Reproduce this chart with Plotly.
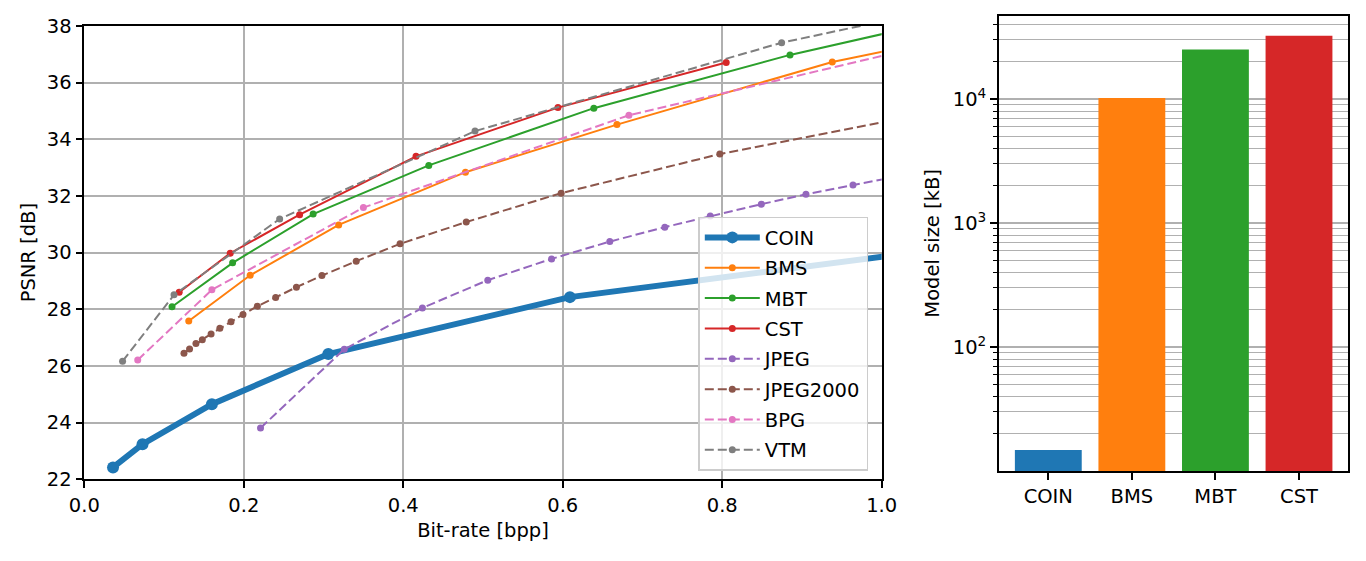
import plotly.graph_objects as go

# ---------------- data ----------------
coin_x = [0.036, 0.073, 0.160, 0.306, 0.609, 1.2]
coin_y = [22.42, 23.24, 24.65, 26.42, 28.43, 30.58]

bms_x = [0.131, 0.208, 0.319, 0.478, 0.668, 0.938, 1.2]
bms_y = [27.59, 29.20, 30.98, 32.84, 34.52, 36.73, 38.24]

mbt_x = [0.110, 0.186, 0.287, 0.432, 0.639, 0.885, 1.2]
mbt_y = [28.09, 29.64, 31.36, 33.08, 35.10, 36.98, 38.98]

cst_x = [0.119, 0.183, 0.270, 0.416, 0.594, 0.805]
cst_y = [28.60, 29.98, 31.34, 33.40, 35.12, 36.71]

jpeg_x = [0.221, 0.326, 0.424, 0.506, 0.586, 0.659, 0.728, 0.785, 0.849, 0.905, 0.964, 1.04]
jpeg_y = [23.81, 26.59, 28.05, 29.03, 29.78, 30.39, 30.90, 31.29, 31.71, 32.06, 32.39, 32.80]

jp2k_x = [0.125, 0.132, 0.140, 0.148, 0.159, 0.170, 0.184, 0.199, 0.217, 0.240,
          0.266, 0.298, 0.341, 0.396, 0.479, 0.598, 0.797, 1.2]
jp2k_y = [26.45, 26.60, 26.79, 26.93, 27.13, 27.33, 27.56, 27.82, 28.11, 28.42,
          28.78, 29.19, 29.70, 30.31, 31.08, 32.10, 33.48, 35.70]

bpg_x = [0.067, 0.160, 0.350, 0.683, 1.2]
bpg_y = [26.21, 28.69, 31.59, 34.85, 38.26]

vtm_x = [0.048, 0.1125, 0.245, 0.490, 0.8745, 1.2]
vtm_y = [26.17, 28.51, 31.19, 34.29, 37.41, 39.36]

models = ["COIN", "BMS", "MBT", "CST"]
model_size_kb = [14.8, 10200, 25100, 32500]

x_ticks = [0.0, 0.2, 0.4, 0.6, 0.8, 1.0]
y_ticks = [22, 24, 26, 28, 30, 32, 34, 36, 38]
log_major = [100, 1000, 10000]
log_major_text = ["10<sup>2</sup>", "10<sup>3</sup>", "10<sup>4</sup>"]
log_minor = [m * d for d in (10, 100, 1000) for m in range(2, 10)] + [20000, 30000, 40000]

# ---------------- styling ----------------
FONT = "DejaVu Sans"
FS = 19.5
C = {"COIN": "#1f77b4", "BMS": "#ff7f0e", "MBT": "#2ca02c", "CST": "#d62728",
     "JPEG": "#9467bd", "JPEG2000": "#8c564b", "BPG": "#e377c2", "VTM": "#7f7f7f"}
GRID = "#b0b0b0"
DASH = "9px,4px"

series = [
    ("COIN", coin_x, coin_y, "solid"),
    ("BMS", bms_x, bms_y, "solid"),
    ("MBT", mbt_x, mbt_y, "solid"),
    ("CST", cst_x, cst_y, "solid"),
    ("JPEG", jpeg_x, jpeg_y, DASH),
    ("JPEG2000", jp2k_x, jp2k_y, DASH),
    ("BPG", bpg_x, bpg_y, DASH),
    ("VTM", vtm_x, vtm_y, DASH),
]

fig = go.Figure()
for name, xs, ys, dash in series:
    big = name == "COIN"
    fig.add_trace(go.Scatter(
        x=xs, y=ys, name=name, mode="lines+markers",
        line=dict(color=C[name], width=6 if big else 2, dash=dash),
        marker=dict(color=C[name], size=12 if big else 7, line=dict(width=0)),
        legendgroup=name, xaxis="x", yaxis="y",
    ))

fig.add_trace(go.Bar(
    x=models, y=model_size_kb, marker=dict(color=[C[m] for m in models], line=dict(width=0)),
    showlegend=False, xaxis="x2", yaxis="y2",
))

axis_common = dict(
    showline=True, linecolor="black", linewidth=1.6, mirror=True,
    ticks="outside", ticklen=7, tickwidth=1.6, tickcolor="black",
    tickfont=dict(family=FONT, size=FS, color="black"),
    zeroline=False, automargin=False,
)

W, H = 1366, 561
fig.update_layout(
    width=W, height=H,
    margin=dict(l=0, r=0, t=0, b=0, pad=0),
    paper_bgcolor="white", plot_bgcolor="white",
    font=dict(family=FONT, size=FS, color="black"),
    bargap=0.2,
    xaxis=dict(
        domain=[84.3 / W, 881.7 / W], range=[0, 1.0],
        tickvals=x_ticks, tickformat=".1f",
        showgrid=True, gridcolor=GRID, gridwidth=1.6,
        title=dict(text="Bit-rate [bpp]", font=dict(family=FONT, size=FS), standoff=8),
        anchor="y", **axis_common,
    ),
    yaxis=dict(
        domain=[(H - 479.3) / H, (H - 26) / H], range=[22, 38],
        tickvals=y_ticks,
        showgrid=True, gridcolor=GRID, gridwidth=1.6,
        title=dict(text="PSNR [dB]", font=dict(family=FONT, size=FS), standoff=6),
        anchor="x", **axis_common,
    ),
    xaxis2=dict(
        domain=[999 / W, 1348.3 / W], range=[-0.59, 3.59], type="category",
        showgrid=False, anchor="y2", **axis_common,
    ),
    yaxis2=dict(
        domain=[(H - 471) / H, (H - 15.7) / H], type="log", range=[1.0, 4.673],
        tickvals=log_major, ticktext=log_major_text,
        showgrid=True, gridcolor=GRID, gridwidth=1.6,
        minor=dict(tickmode="array", tickvals=log_minor, showgrid=True,
                   gridcolor=GRID, gridwidth=1.2, ticks="outside", ticklen=4,
                   tickwidth=1.2, tickcolor="black"),
        title=dict(text="Model size [kB]", font=dict(family=FONT, size=FS), standoff=8),
        anchor="x2", **axis_common,
    ),
    legend=dict(
        x=698.3 / W, y=(H - 216.7) / H, xanchor="left", yanchor="top",
        bgcolor="rgba(255,255,255,0.8)", bordercolor="#cccccc", borderwidth=1.5,
        font=dict(family=FONT, size=FS, color="black"),
        tracegroupgap=2, itemwidth=55,
    ),
)

fig.write_html("out.html", config={"displayModeBar": False},
               post_script="document.body.style.margin='0';document.body.style.overflow='hidden';")
